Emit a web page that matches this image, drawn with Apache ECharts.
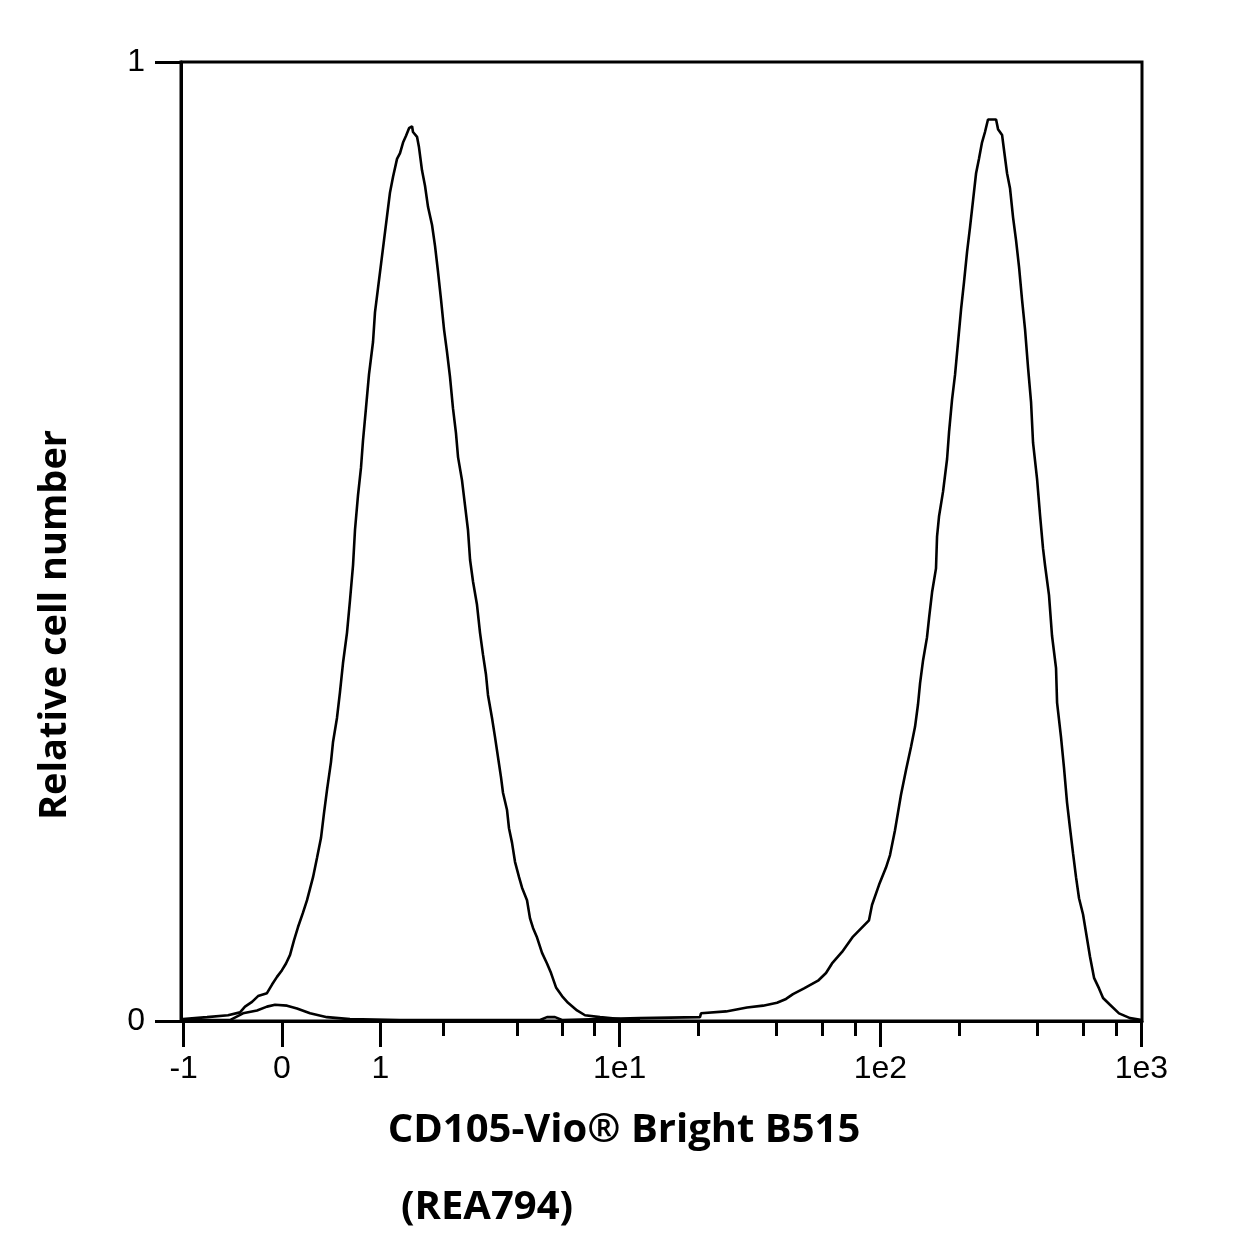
<!DOCTYPE html>
<html>
<head>
<meta charset="utf-8">
<script src="https://cdn.jsdelivr.net/npm/echarts@6/dist/echarts.min.js"></script>
<style>
html,body{margin:0;padding:0;background:#fff;}
#chart{width:1250px;height:1250px;}
</style>
</head>
<body>
<div id="chart"></div>
<script>
// Display channels (0–1024) of the biexponential axis; counts normalised to the tallest bin
const controlChannels = [2.1,27.7,50.1,62.9,68.2,75.7,82.1,91.6,97.0,102.3,107.6,111.9,116.2,120.4,124.7,130.0,134.3,137.5,140.7,144.9,149.2,152.4,155.6,159.8,162.0,166.2,169.4,172.6,176.9,180.1,183.3,185.4,188.6,191.8,193.9,197.1,200.3,204.6,206.7,209.9,213.1,216.3,219.5,222.7,225.9,230.2,233.4,236.6,239.8,243.0,246.2,247.2,251.5,253.6,256.8,260.0,263.2,267.5,270.7,273.9,277.1,280.3,283.4,286.6,289.8,293.0,295.2,299.4,302.6,305.8,308.0,311.2,315.4,318.6,321.8,325.0,327.1,331.4,334.6,337.8,341.0,343.1,347.4,349.5,352.7,355.9,360.2,363.4,368.7,371.9,375.1,379.4,384.7,390.0,394.3,399.6,406.0,412.4,422.0,430.5,446.5,467.8,489.1];
const controlCounts = [0.002,0.004,0.006,0.009,0.015,0.020,0.026,0.029,0.038,0.046,0.053,0.060,0.069,0.084,0.098,0.113,0.126,0.138,0.150,0.170,0.191,0.217,0.241,0.270,0.291,0.316,0.343,0.373,0.405,0.439,0.475,0.512,0.548,0.577,0.605,0.639,0.674,0.708,0.739,0.764,0.789,0.814,0.839,0.864,0.880,0.899,0.905,0.916,0.923,0.931,0.933,0.927,0.922,0.911,0.887,0.871,0.849,0.830,0.808,0.781,0.752,0.721,0.698,0.672,0.639,0.613,0.588,0.564,0.538,0.512,0.481,0.458,0.434,0.405,0.382,0.361,0.340,0.316,0.296,0.275,0.254,0.238,0.220,0.201,0.186,0.166,0.150,0.139,0.126,0.107,0.097,0.087,0.071,0.060,0.050,0.035,0.026,0.019,0.011,0.006,0.004,0.002,0.001];

const stainedChannels = [2.1,52.2,66.1,81.0,91.6,100.2,113.0,123.6,137.5,155.6,180.1,233.4,382.6,390.0,398.5,406.0,446.5,489.1,553.0,554.1,580.8,603.1,620.2,635.1,644.7,652.1,663.9,678.8,687.3,693.7,704.4,716.1,733.1,736.3,743.8,751.2,755.5,760.8,767.2,772.6,777.9,782.2,785.3,787.5,790.7,794.9,797.1,800.3,804.5,805.6,807.7,812.0,816.3,818.4,821.6,824.8,828.0,831.2,834.4,837.6,840.8,844.0,847.2,850.3,853.5,856.7,859.9,868.5,870.6,874.9,877.0,880.2,883.4,886.6,889.8,893.0,896.2,899.4,902.6,905.8,907.9,912.2,915.4,918.5,920.7,924.9,928.1,932.4,933.5,937.7,940.9,944.1,947.3,950.5,953.7,956.9,961.2,964.4,968.6,972.9,978.2,982.5,989.9,999.5,1011.3,1024];
const stainedCounts = [0.001,0.001,0.008,0.011,0.015,0.017,0.016,0.013,0.008,0.004,0.002,0.001,0.001,0.004,0.004,0.001,0.002,0.003,0.004,0.008,0.010,0.014,0.016,0.019,0.023,0.028,0.034,0.042,0.050,0.060,0.072,0.088,0.105,0.121,0.142,0.160,0.173,0.199,0.236,0.262,0.286,0.307,0.330,0.352,0.376,0.400,0.420,0.447,0.472,0.505,0.526,0.552,0.586,0.614,0.648,0.674,0.708,0.742,0.771,0.802,0.828,0.856,0.884,0.899,0.916,0.927,0.940,0.940,0.930,0.924,0.908,0.884,0.868,0.838,0.814,0.786,0.752,0.721,0.681,0.645,0.603,0.565,0.527,0.493,0.475,0.444,0.402,0.368,0.332,0.296,0.264,0.228,0.201,0.175,0.150,0.128,0.111,0.092,0.067,0.045,0.034,0.024,0.017,0.008,0.003,0.001];

// Axis decorations
const majorTickValues = [-1, 0, 1, 10, 100, 1000];
const majorTickLabels = ['-1', '0', '1', '1e1', '1e2', '1e3'];
const minorTickValues = [2, 4, 6, 8, 20, 40, 60, 80, 200, 400, 600, 800];
const yTickLabels = ['0', '1'];

const xTitle = 'CD105-Vio® Bright B515';
const xSubTitle = '(REA794)';
const yTitle = 'Relative cell number';

// Biexponential (arcsinh) display transform: value -> display channel
const CH0 = 107.6, CHK = 120.8, WIDTH = 1.02;
function toChannel(v) { return CH0 + CHK * Math.asinh(v / WIDTH); }

const majorCh = majorTickValues.map(toChannel);
const minorCh = minorTickValues.map(toChannel);

function zip(a, b) { return a.map((x, i) => [x, b[i]]); }

const tickFont = "'Liberation Sans',Arial,sans-serif";
const titleFont = "'Open Sans','Noto Sans',sans-serif";

const chart = echarts.init(document.getElementById('chart'), null, {renderer: 'canvas'});
chart.setOption({
  animation: false,
  backgroundColor: '#ffffff',
  grid: {left: 181, top: 62, right: 108, bottom: 229, show: true, borderColor: '#000', borderWidth: 3, backgroundColor: 'transparent'},
  xAxis: [{
    type: 'value', min: 0, max: 1024, position: 'bottom', offset: 0,
    axisLine: {show: true, lineStyle: {color: '#000', width: 3}},
    axisTick: {show: true, customValues: majorCh, length: 26, lineStyle: {color: '#000', width: 3}},
    axisLabel: {
      show: true, customValues: majorCh, margin: 32, color: '#000', fontSize: 32, fontFamily: tickFont,
      formatter: function (val) {
        let best = 0, d = Infinity;
        majorCh.forEach((c, i) => { if (Math.abs(c - val) < d) { d = Math.abs(c - val); best = i; } });
        return majorTickLabels[best];
      }
    },
    splitLine: {show: false}
  }, {
    type: 'value', min: 0, max: 1024, position: 'bottom', offset: 0,
    axisLine: {show: false},
    axisTick: {show: true, customValues: minorCh, length: 15, lineStyle: {color: '#000', width: 3}},
    axisLabel: {show: false},
    splitLine: {show: false}
  }],
  yAxis: {
    type: 'value', min: 0, max: 1, interval: 1,
    axisLine: {show: true, lineStyle: {color: '#000', width: 3}},
    axisTick: {show: true, length: 26, lineStyle: {color: '#000', width: 3}},
    axisLabel: {show: true, margin: 36, color: '#000', fontSize: 32, fontFamily: tickFont,
      formatter: function (v) { return yTickLabels[Math.round(v)]; }},
    splitLine: {show: false}
  },
  series: [{
    name: 'Control', type: 'line', xAxisIndex: 0, data: zip(controlChannels, controlCounts),
    symbol: 'none', smooth: false, lineStyle: {color: '#000', width: 2.6}, z: 3
  }, {
    name: 'CD105', type: 'line', xAxisIndex: 0, data: zip(stainedChannels, stainedCounts),
    symbol: 'none', smooth: false, lineStyle: {color: '#000', width: 2.6}, z: 3
  }],
  graphic: [
    {type: 'text', x: 624, y: 1131, style: {text: xTitle, align: 'center', verticalAlign: 'middle', fontSize: 40, fontWeight: 'bold', fontFamily: titleFont, fill: '#000'}},
    {type: 'text', x: 487, y: 1208, style: {text: xSubTitle, align: 'center', verticalAlign: 'middle', fontSize: 40, fontWeight: 'bold', fontFamily: titleFont, fill: '#000'}},
    {type: 'text', x: 55, y: 625, rotation: Math.PI / 2, style: {text: yTitle, align: 'center', verticalAlign: 'middle', fontSize: 38, fontWeight: 'bold', fontFamily: titleFont, fill: '#000'}}
  ]
});
</script>
</body>
</html>
